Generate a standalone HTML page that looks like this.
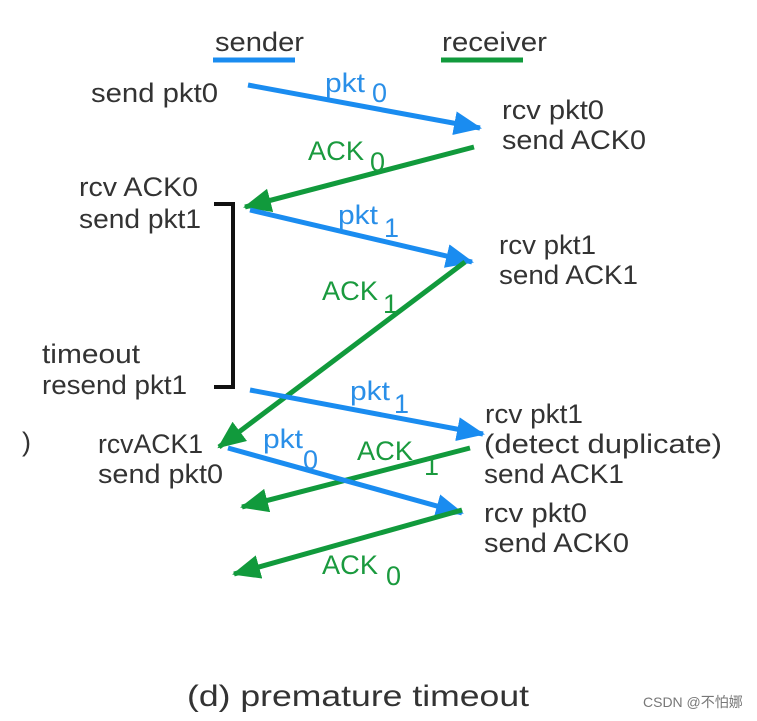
<!DOCTYPE html>
<html><head><meta charset="utf-8"><style>
html,body{margin:0;padding:0;background:#fff;}
svg{display:block}
text{font-family:"Liberation Sans",sans-serif;font-size:27px;}
.k{fill:#333}
.b{fill:#2a8fe8}
.g{fill:#1a9a3e}
</style></head><body>
<svg width="757" height="721" viewBox="0 0 757 721">
<defs>
<marker id="mb" markerUnits="userSpaceOnUse" markerWidth="30" markerHeight="30" refX="26" refY="12" orient="auto"><path d="M0,0 L28,12 L0,24 Z" fill="#1a8cf0"/></marker>
<marker id="mg" markerUnits="userSpaceOnUse" markerWidth="30" markerHeight="30" refX="26" refY="12" orient="auto"><path d="M0,0 L28,12 L0,24 Z" fill="#119a3c"/></marker>
</defs>
<g stroke-width="5" fill="none">
<line x1="248" y1="85" x2="480" y2="128" stroke="#1a8cf0" marker-end="url(#mb)"/>
<line x1="474" y1="147" x2="245" y2="207" stroke="#119a3c" marker-end="url(#mg)"/>
<line x1="250" y1="210" x2="472" y2="262" stroke="#1a8cf0" marker-end="url(#mb)"/>
<line x1="465" y1="262" x2="219" y2="447" stroke="#119a3c" marker-end="url(#mg)"/>
<line x1="250" y1="390" x2="483" y2="434" stroke="#1a8cf0" marker-end="url(#mb)"/>
<line x1="470" y1="448" x2="242" y2="507" stroke="#119a3c" marker-end="url(#mg)"/>
<line x1="228" y1="448" x2="462" y2="513" stroke="#1a8cf0" marker-end="url(#mb)"/>
<line x1="462" y1="510" x2="234" y2="574" stroke="#119a3c" marker-end="url(#mg)"/>
<polyline points="214,204 233,204 233,387 214,387" stroke="#111" stroke-width="4"/>
<line x1="213" y1="60" x2="295" y2="60" stroke="#1a8cf0" stroke-width="5"/>
<line x1="441" y1="60" x2="523" y2="60" stroke="#119a3c" stroke-width="5"/>
</g>
<g>
<text class="k" x="215" y="51" textLength="89" lengthAdjust="spacingAndGlyphs">sender</text>
<text class="k" x="442" y="51" textLength="105" lengthAdjust="spacingAndGlyphs">receiver</text>
<text class="k" x="91" y="102" textLength="127" lengthAdjust="spacingAndGlyphs">send pkt0</text>
<text class="b" x="325" y="92" textLength="40" lengthAdjust="spacingAndGlyphs">pkt</text><text class="b" x="372" y="102">0</text>
<text class="k" x="502" y="119" textLength="102" lengthAdjust="spacingAndGlyphs">rcv pkt0</text>
<text class="k" x="502" y="149" textLength="144" lengthAdjust="spacingAndGlyphs">send ACK0</text>
<text class="g" x="308" y="160" textLength="56" lengthAdjust="spacingAndGlyphs">ACK</text><text class="g" x="370" y="171">0</text>
<text class="k" x="79" y="196" textLength="119" lengthAdjust="spacingAndGlyphs">rcv ACK0</text>
<text class="k" x="79" y="228" textLength="122" lengthAdjust="spacingAndGlyphs">send pkt1</text>
<text class="b" x="338" y="224" textLength="40" lengthAdjust="spacingAndGlyphs">pkt</text><text class="b" x="384" y="237">1</text>
<text class="k" x="499" y="254" textLength="97" lengthAdjust="spacingAndGlyphs">rcv pkt1</text>
<text class="k" x="499" y="284" textLength="139" lengthAdjust="spacingAndGlyphs">send ACK1</text>
<text class="g" x="322" y="300" textLength="56" lengthAdjust="spacingAndGlyphs">ACK</text><text class="g" x="383" y="313">1</text>
<text class="k" x="42" y="363" textLength="98" lengthAdjust="spacingAndGlyphs">timeout</text>
<text class="k" x="42" y="394" textLength="145" lengthAdjust="spacingAndGlyphs">resend pkt1</text>
<text class="b" x="350" y="400" textLength="40" lengthAdjust="spacingAndGlyphs">pkt</text><text class="b" x="394" y="413">1</text>
<text class="k" x="485" y="423" textLength="98" lengthAdjust="spacingAndGlyphs">rcv pkt1</text>
<text class="k" x="484" y="453" textLength="238" lengthAdjust="spacingAndGlyphs">(detect duplicate)</text>
<text class="k" x="484" y="483" textLength="140" lengthAdjust="spacingAndGlyphs">send ACK1</text>
<text class="k" x="22" y="451">)</text>
<text class="k" x="98" y="453" textLength="105" lengthAdjust="spacingAndGlyphs">rcvACK1</text>
<text class="k" x="98" y="483" textLength="125" lengthAdjust="spacingAndGlyphs">send pkt0</text>
<text class="b" x="263" y="448" textLength="40" lengthAdjust="spacingAndGlyphs">pkt</text><text class="b" x="303" y="469">0</text>
<text class="g" x="357" y="460" textLength="56" lengthAdjust="spacingAndGlyphs">ACK</text><text class="g" x="424" y="475">1</text>
<text class="k" x="484" y="522" textLength="103" lengthAdjust="spacingAndGlyphs">rcv pkt0</text>
<text class="k" x="484" y="552" textLength="145" lengthAdjust="spacingAndGlyphs">send ACK0</text>
<text class="g" x="322" y="574" textLength="56" lengthAdjust="spacingAndGlyphs">ACK</text><text class="g" x="386" y="585">0</text>
<text class="k" x="187" y="706" style="font-size:30px" textLength="342" lengthAdjust="spacingAndGlyphs">(d) premature timeout</text>
</g>
<text x="643" y="707" style="font-size:14px;fill:#777;font-family:'Liberation Sans','Noto Sans CJK SC',sans-serif">CSDN @不怕娜</text>
</svg>
</body></html>
